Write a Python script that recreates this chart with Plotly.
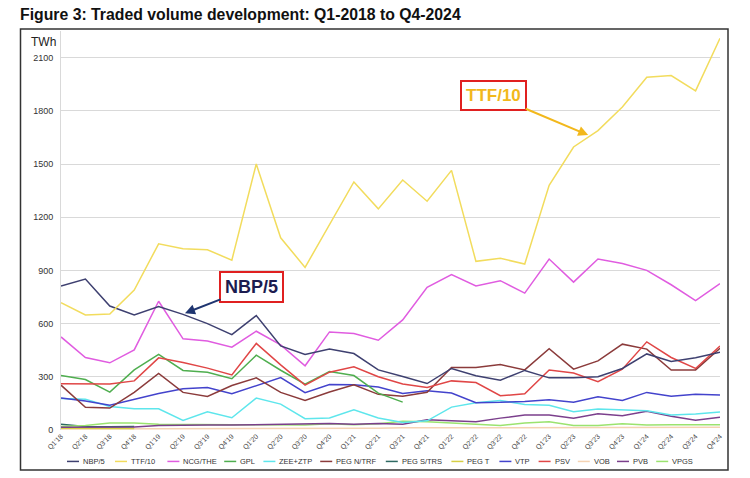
import plotly.graph_objects as go

quarters = ["Q1'18", "Q2'18", "Q3'18", "Q4'18", "Q1'19", "Q2'19", "Q3'19", "Q4'19",
            "Q1'20", "Q2'20", "Q3'20", "Q4'20", "Q1'21", "Q2'21", "Q3'21", "Q4'21",
            "Q1'22", "Q2'22", "Q3'22", "Q4'22", "Q1'23", "Q2'23", "Q3'23", "Q4'23",
            "Q1'24", "Q2'24", "Q3'24", "Q4'24"]

nbp = [812, 851, 699, 649, 696, 652, 600, 538, 645, 474, 426, 457, 431, 339,
       302, 262, 347, 306, 281, 336, 294, 294, 300, 347, 429, 386, 407, 439]
ttf = [718, 649, 654, 789, 1050, 1022, 1016, 958, 1500, 1084, 917, 1155, 1399, 1247,
       1410, 1290, 1464, 951, 968, 936, 1380, 1596, 1688, 1821, 1989, 1999, 1912, 2209]
ncg = [525, 409, 379, 452, 726, 514, 502, 467, 557, 480, 362, 553, 544, 506,
       621, 804, 876, 812, 842, 772, 964, 834, 964, 939, 900, 819, 729, 825]
gpl = [307, 285, 214, 339, 427, 336, 326, 289, 422, 337, 259, 330, 307, 208,
       157, None, None, None, None, None, None, None, None, None, None, None, None, None]
zee = [178, 174, 133, 120, 120, 54, 103, 69, 180, 146, 64, 68, 114, 68,
       42, 52, 129, 154, 167, 144, 139, 103, 118, 113, 109, 84, 90, 101]
peg_n = [253, 128, 124, 212, 319, 212, 189, 251, 294, 212, 167, 214, 255, 201,
         190, 213, 353, 353, 369, 339, 458, 343, 390, 484, 456, 338, 339, 461]
peg_s = [32, 20, 18, 20, None, None, None, None, None, None, None, None, None, None,
         None, None, None, None, None, None, None, None, None, None, None, None, None, None]
peg_t = [10, 8, 8, 8, None, None, None, None, None, None, None, None, None, None,
         None, None, None, None, None, None, None, None, None, None, None, None, None, None]
vtp = [180, 163, 139, 171, 206, 233, 240, 204, 248, 296, 210, 257, 255, 242,
       206, 221, 208, 154, 156, 161, 171, 156, 188, 167, 212, 191, 201, 197]
psv = [261, 261, 259, 277, 407, 381, 349, 311, 488, 367, 253, 326, 356, 300,
       259, 240, 277, 268, 193, 204, 338, 321, 272, 343, 497, 409, 347, 474]
vob = [6, 6, 7, 7, 8, 8, 8, 9, 9, 9, 10, 10, 10, 10,
       12, 12, 12, 12, 12, 13, 13, 13, 13, 14, 14, 14, 14, 15]
pvb = [15, 15, 15, 17, 25, 28, 28, 28, 30, 28, 30, 36, 32, 36,
       32, 58, 52, 46, 67, 84, 84, 67, 92, 81, 105, 77, 55, 72]
vpgs = [20, 25, 40, 40, 32, 30, 30, 30, 30, 30, 28, 35, 30, 35,
        50, 47, 40, 32, 25, 40, 47, 25, 25, 35, 28, 30, 30, 30]

names = ["NBP/5", "TTF/10", "NCG/THE", "GPL", "ZEE+ZTP", "PEG N/TRF", "PEG S/TRS",
         "PEG T", "VTP", "PSV", "VOB", "PVB", "VPGS"]
values = [nbp, ttf, ncg, gpl, zee, peg_n, peg_s, peg_t, vtp, psv, vob, pvb, vpgs]
colors = ["#3e4070", "#f2dc5d", "#e05ce0", "#4fae4f", "#5ee6ec", "#8b3b3b", "#2f6a63",
          "#d6cf45", "#4343cc", "#e04646", "#f5d3b3", "#7b3f8c", "#9be36f"]

W, H = 750, 478
L, R, T, B = 61, 30, 31, 48.4
PW, PH = W - L - R, H - T - B


def px_x(X):
    return (X - L) / PW


def px_y(Y):
    return (H - B - Y) / PH


fig = go.Figure()
draw_order = [10, 7, 6, 12, 11, 4, 8, 5, 3, 9, 2, 0, 1]
for k in draw_order:
    fig.add_trace(go.Scatter(x=quarters, y=values[k], name=names[k], mode="lines",
                             line=dict(color=colors[k], width=1.5),
                             connectgaps=False, showlegend=False))

shapes = [dict(type="rect", xref="paper", yref="paper",
               x0=px_x(20.5), x1=px_x(728), y0=px_y(469.5), y1=px_y(29),
               line=dict(color="#333333", width=1.5), layer="below")]
annotations = []

# custom compact legend
lx = 67
for name, col in zip(names, colors):
    shapes.append(dict(type="line", xref="paper", yref="paper",
                       x0=px_x(lx), x1=px_x(lx + 12), y0=px_y(461), y1=px_y(461),
                       line=dict(color=col, width=1.5)))
    annotations.append(dict(xref="paper", yref="paper", x=px_x(lx + 14), y=px_y(461.5),
                            text=name, showarrow=False, xanchor="left", yanchor="middle",
                            font=dict(size=7.5, color="#333333", family="Liberation Sans")))
    lx += 26 + 4.4 * len(name)

annotations.append(dict(xref="paper", yref="paper", x=px_x(29), y=px_y(42),
                        text="TWh", showarrow=False, xanchor="left", yanchor="middle",
                        font=dict(size=12, color="#222222", family="Liberation Sans")))

annotations.append(dict(x=5.08, y=659, xref="x", yref="y", text="<b>NBP/5</b>",
                        showarrow=True, ax=67, ay=-26, arrowhead=2, arrowsize=1,
                        arrowwidth=2, arrowcolor="#1f3570",
                        font=dict(size=18, color="#1c1c50", family="Liberation Sans"),
                        bgcolor="white", bordercolor="#e02020", borderwidth=2, borderpad=4))
annotations.append(dict(x=21.6, y=1663, xref="x", yref="y", text="<b>TTF/10</b>",
                        showarrow=True, ax=-95, ay=-40, arrowhead=2, arrowsize=1,
                        arrowwidth=2, arrowcolor="#f2b81c",
                        font=dict(size=17, color="#f2b81c", family="Liberation Sans"),
                        bgcolor="white", bordercolor="#e02020", borderwidth=2, borderpad=4))

fig.update_layout(
    width=W, height=H,
    margin=dict(l=L, r=R, t=T, b=B, pad=0),
    paper_bgcolor="white", plot_bgcolor="white",
    title=dict(text="<b>Figure 3: Traded volume development: Q1-2018 to Q4-2024</b>",
               x=20 / W, xanchor="left", y=1 - 14 / H, yanchor="middle",
               font=dict(size=15.8, color="#111111", family="Liberation Sans")),
    xaxis=dict(type="category", range=[0, 27], tickangle=-45, showgrid=False,
               tickfont=dict(size=7, color="#444444", family="Liberation Sans"),
               showline=False, ticks="", zeroline=False),
    yaxis=dict(range=[0, 2250], tickvals=[0, 300, 600, 900, 1200, 1500, 1800, 2100],
               showgrid=True, gridcolor="#d9d9d9", gridwidth=1,
               showline=True, linecolor="#d9d9d9", linewidth=1,
               tickfont=dict(size=9, color="#333333", family="Liberation Sans"),
               ticklabelstandoff=5,
               ticks="", zeroline=False),
    shapes=shapes, annotations=annotations,
    showlegend=False,
)

fig.write_html("out.html")
